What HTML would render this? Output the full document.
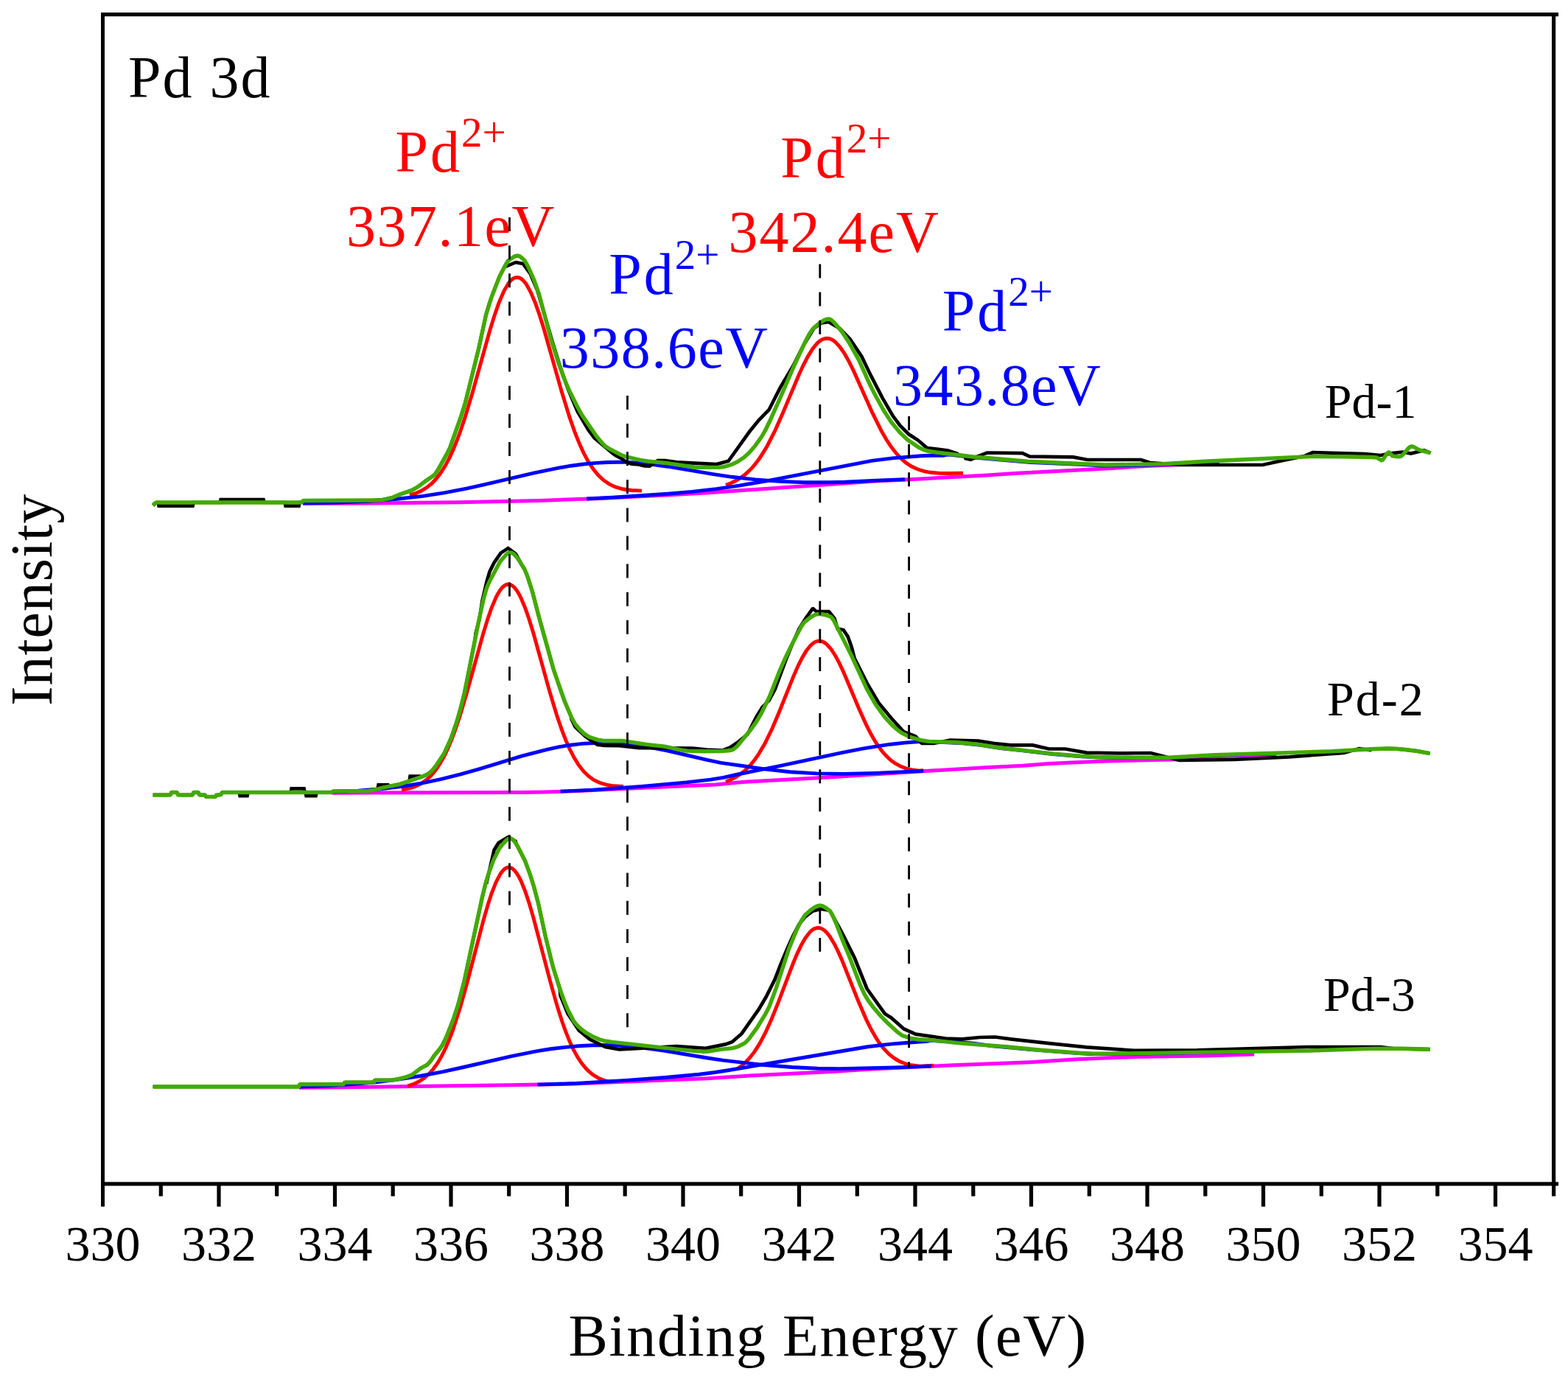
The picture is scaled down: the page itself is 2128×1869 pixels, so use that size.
<!DOCTYPE html>
<html><head><meta charset="utf-8"><title>Pd 3d XPS</title>
<style>html,body{margin:0;padding:0;background:#fff;overflow:hidden}svg{display:block}</style>
</head><body>
<svg width="2128" height="1869" viewBox="0 0 2128 1869">
<rect width="100%" height="100%" fill="#fff"/>
<path d="M411.0,683.6 L506.0,683.1 L624.0,681.8 L732.0,679.4 L808.0,676.7 L914.0,671.5 L962.0,668.8 L1052.0,662.4 L1140.0,656.6 L1191.0,652.8 L1240.0,650.5 L1336.0,645.2 L1381.0,642.2 L1492.0,636.4 L1561.0,632.3 L1655.0,628.5" fill="none" stroke="#ff00ff" stroke-width="5" stroke-linejoin="miter"/>
<path d="M450.3,1076.3 L710.3,1075.5 L741.3,1075.0 L785.3,1073.5 L895.3,1068.2 L971.3,1065.1 L1002.3,1062.0 L1020.3,1060.7 L1125.3,1055.0 L1237.3,1047.7 L1337.3,1041.7 L1388.3,1039.3 L1423.3,1036.6 L1449.3,1035.2 L1502.3,1033.1 L1665.3,1029.3 L1732.3,1026.8" fill="none" stroke="#ff00ff" stroke-width="5" stroke-linejoin="miter"/>
<path d="M406.0,1476.2 L486.0,1475.5 L692.0,1472.8 L779.0,1471.1 L960.0,1463.7 L1022.0,1459.7 L1130.0,1454.5 L1184.0,1451.1 L1288.0,1446.1 L1398.0,1441.7 L1461.0,1437.8 L1500.0,1436.0 L1540.0,1434.6 L1637.0,1433.0 L1702.0,1431.0" fill="none" stroke="#ff00ff" stroke-width="5" stroke-linejoin="miter"/>
<path d="M556.0,672.1 L564.0,669.7 L572.0,666.1 L579.0,661.8 L586.0,656.1 L592.0,649.8 L598.0,642.0 L604.0,632.6 L610.0,621.3 L615.0,610.5 L620.0,598.3 L625.0,584.8 L631.0,566.9 L641.0,533.7 L665.0,447.8 L671.0,428.4 L677.0,411.2 L684.0,394.8 L690.0,384.6 L693.0,381.0 L696.0,378.4 L699.0,376.9 L702.0,376.5 L705.0,377.1 L708.0,378.8 L711.0,381.6 L714.0,385.4 L720.0,396.0 L726.0,410.0 L732.0,426.9 L738.0,446.0 L762.0,530.7 L773.0,566.4 L780.0,586.3 L786.0,601.4 L792.0,614.6 L798.0,625.8 L805.0,636.6 L812.0,645.1 L819.0,651.7 L827.0,657.1 L835.0,660.9 L845.0,663.8 L857.0,665.5 L871.0,666.1" fill="none" stroke="#ff0000" stroke-width="4.9"/>
<path d="M985.0,658.3 L992.0,655.7 L998.0,652.8 L1004.0,649.3 L1010.0,645.0 L1016.0,639.7 L1021.0,634.6 L1026.0,628.6 L1031.0,621.8 L1041.0,605.7 L1052.0,584.1 L1062.0,561.6 L1084.0,509.2 L1090.0,496.1 L1096.0,484.5 L1103.0,473.2 L1109.0,465.9 L1113.0,462.5 L1116.0,460.7 L1119.0,459.6 L1122.0,459.2 L1125.0,459.5 L1128.0,460.5 L1131.0,462.1 L1134.0,464.5 L1140.0,471.0 L1146.0,479.8 L1152.0,490.4 L1158.0,502.4 L1184.0,560.4 L1196.0,584.6 L1203.0,596.8 L1209.0,605.9 L1215.0,613.8 L1222.0,621.5 L1229.0,627.7 L1237.0,633.0 L1245.0,636.8 L1254.0,639.6 L1263.0,641.3 L1274.0,642.2 L1288.0,642.5 L1307.0,642.1" fill="none" stroke="#ff0000" stroke-width="4.9"/>
<path d="M545.0,1072.0 L555.0,1070.1 L563.0,1067.6 L571.0,1063.8 L578.0,1059.1 L585.0,1052.7 L591.0,1045.6 L597.0,1036.7 L603.0,1026.0 L608.0,1015.6 L613.0,1003.6 L618.0,990.2 L624.0,972.3 L634.0,938.8 L656.0,859.2 L662.0,839.8 L667.0,825.4 L673.0,811.1 L676.0,805.4 L679.0,800.7 L682.0,797.0 L685.0,794.5 L688.0,793.2 L690.0,793.0 L692.0,793.2 L695.0,794.7 L698.0,797.2 L701.0,800.9 L704.0,805.7 L707.0,811.5 L713.0,825.9 L718.0,840.3 L724.0,859.8 L746.0,938.8 L756.0,971.9 L762.0,989.4 L768.0,1005.0 L773.0,1016.4 L779.0,1028.1 L785.0,1037.9 L792.0,1046.9 L799.0,1053.7 L806.0,1058.7 L814.0,1062.5 L823.0,1065.2 L833.0,1066.8 L846.0,1067.5" fill="none" stroke="#ff0000" stroke-width="4.9"/>
<path d="M985.0,1061.1 L991.0,1058.6 L997.0,1055.6 L1003.0,1051.9 L1009.0,1047.5 L1014.0,1043.0 L1019.0,1037.7 L1024.0,1031.6 L1029.0,1024.5 L1038.0,1009.3 L1048.0,988.7 L1057.0,967.5 L1077.0,917.6 L1083.0,904.0 L1088.0,893.9 L1094.0,883.7 L1100.0,876.1 L1103.0,873.4 L1106.0,871.4 L1109.0,870.3 L1111.0,869.9 L1113.0,870.0 L1116.0,870.7 L1119.0,872.2 L1122.0,874.5 L1128.0,881.2 L1134.0,890.5 L1139.0,899.9 L1145.0,912.7 L1166.0,962.5 L1176.0,984.6 L1182.0,996.3 L1187.0,1005.0 L1192.0,1012.8 L1197.0,1019.5 L1203.0,1026.3 L1209.0,1031.9 L1215.0,1036.2 L1222.0,1040.1 L1230.0,1043.1 L1238.0,1044.9 L1247.0,1046.1 L1253.0,1045.8" fill="none" stroke="#ff0000" stroke-width="4.9"/>
<path d="M553.0,1473.6 L555.0,1473.5 L560.0,1471.9 L568.0,1468.3 L575.0,1463.8 L582.0,1457.8 L588.0,1451.0 L594.0,1442.6 L600.0,1432.2 L605.0,1422.0 L610.0,1410.3 L615.0,1397.0 L625.0,1366.0 L634.0,1333.8 L656.0,1249.4 L662.0,1228.5 L667.0,1213.1 L673.0,1197.7 L679.0,1186.2 L682.0,1182.2 L685.0,1179.3 L688.0,1177.7 L690.0,1177.3 L692.0,1177.4 L695.0,1178.7 L698.0,1181.2 L701.0,1184.9 L704.0,1189.7 L707.0,1195.6 L713.0,1210.4 L718.0,1225.4 L724.0,1245.8 L747.0,1333.2 L757.0,1368.3 L763.0,1387.0 L768.0,1400.9 L773.0,1413.3 L778.0,1424.1 L784.0,1435.1 L790.0,1444.0 L797.0,1452.2 L804.0,1458.3 L812.0,1463.2 L821.0,1466.7 L826.0,1468.0 L836.0,1467.6" fill="none" stroke="#ff0000" stroke-width="4.9"/>
<path d="M1000.0,1451.3 L1008.0,1445.5 L1016.0,1437.6 L1024.0,1427.4 L1031.0,1416.4 L1039.0,1401.2 L1047.0,1383.5 L1056.0,1361.1 L1076.0,1308.4 L1082.0,1294.1 L1087.0,1283.6 L1093.0,1273.0 L1099.0,1265.3 L1102.0,1262.5 L1105.0,1260.6 L1108.0,1259.6 L1110.0,1259.3 L1112.0,1259.5 L1115.0,1260.4 L1118.0,1262.2 L1121.0,1264.8 L1126.0,1270.8 L1132.0,1280.6 L1137.0,1290.5 L1143.0,1304.0 L1165.0,1359.3 L1176.0,1384.6 L1182.0,1396.7 L1188.0,1407.3 L1193.0,1415.0 L1199.0,1422.9 L1206.0,1430.3 L1213.0,1435.9 L1220.0,1440.2 L1228.0,1443.5 L1237.0,1445.8 L1248.0,1447.2 L1267.0,1446.2" fill="none" stroke="#ff0000" stroke-width="4.9"/>
<path d="M411.0,683.1 L459.0,682.1 L501.0,680.3 L539.0,677.3 L574.0,673.4 L603.0,668.9 L633.0,663.2 L660.0,657.2 L724.0,642.1 L758.0,635.1 L775.0,632.2 L792.0,630.0 L809.0,628.4 L825.0,627.5 L839.0,627.2 L852.0,627.4 L865.0,628.2 L879.0,629.5 L906.0,633.2 L968.0,643.6 L993.0,647.3 L1025.0,650.9 L1058.0,653.4 L1092.0,654.7 L1126.0,654.8 L1147.0,654.3 L1189.0,652.2 L1228.0,650.8" fill="none" stroke="#0000ff" stroke-width="4.9"/>
<path d="M796.2,677.0 L831.2,675.2 L906.2,670.3 L939.2,667.4 L972.2,663.6 L1003.2,659.1 L1040.2,652.8 L1183.2,625.4 L1211.2,621.9 L1250.2,618.8 L1265.2,618.2 L1280.2,618.2 L1284.2,617.3 L1288.2,617.1 L1325.2,621.4 L1398.2,627.5 L1464.2,630.2 L1496.2,632.0 L1529.2,631.8 L1574.2,630.8 L1654.2,626.3" fill="none" stroke="#0000ff" stroke-width="4.9"/>
<path d="M450.3,1074.8 L486.3,1073.1 L517.3,1070.7 L546.3,1067.3 L573.3,1062.9 L598.3,1057.7 L624.3,1051.2 L649.3,1044.1 L708.3,1026.2 L742.3,1017.3 L759.3,1013.7 L774.3,1011.2 L790.3,1009.4 L806.3,1008.5 L822.3,1008.3 L837.3,1008.9 L852.3,1010.1 L869.3,1012.3 L887.3,1015.3 L906.3,1019.0 L959.3,1031.4 L978.3,1035.3 L1039.3,1044.1 L1072.3,1047.7 L1108.3,1049.9 L1145.3,1050.4 L1187.3,1049.4 L1253.3,1046.4" fill="none" stroke="#0000ff" stroke-width="4.9"/>
<path d="M760.7,1074.2 L804.7,1072.1 L870.7,1067.4 L931.7,1061.9 L964.7,1058.1 L981.7,1055.3 L1003.7,1050.5 L1055.7,1040.2 L1143.7,1021.4 L1170.7,1016.2 L1190.7,1012.8 L1208.7,1010.2 L1227.7,1008.1 L1245.7,1006.7 L1257.7,1006.6 L1306.7,1008.8 L1330.7,1011.4 L1357.7,1015.5 L1386.7,1018.5 L1428.7,1023.5 L1464.7,1026.6 L1487.7,1027.9 L1532.7,1028.7 L1583.7,1028.9 L1601.7,1028.2 L1647.7,1025.4 L1732.7,1022.5" fill="none" stroke="#0000ff" stroke-width="4.9"/>
<path d="M406.0,1475.1 L444.0,1473.7 L479.0,1471.6 L511.0,1468.7 L542.0,1464.9 L570.0,1460.5 L600.0,1454.8 L629.0,1448.5 L694.0,1433.6 L729.0,1426.7 L747.0,1423.8 L765.0,1421.6 L785.0,1419.8 L804.0,1418.8 L819.0,1418.5 L834.0,1418.9 L850.0,1419.9 L866.0,1421.4 L901.0,1426.1 L960.0,1436.0 L981.0,1439.1 L1034.0,1445.2 L1075.0,1448.5 L1110.0,1450.2 L1139.0,1450.6 L1225.0,1448.6 L1264.0,1447.0" fill="none" stroke="#0000ff" stroke-width="4.9"/>
<path d="M729.6,1472.1 L782.6,1470.5 L849.6,1466.4 L899.6,1462.8 L948.6,1458.2 L968.6,1455.7 L986.6,1453.0 L1177.6,1420.8 L1208.6,1417.1 L1231.6,1415.2 L1258.6,1413.4 L1263.6,1412.4 L1302.6,1414.4 L1321.6,1416.3 L1347.6,1419.9 L1399.6,1424.6 L1460.6,1429.4 L1479.6,1430.5 L1515.6,1430.5 L1701.6,1427.6" fill="none" stroke="#0000ff" stroke-width="4.9"/>
<path d="M207.6,686.0 L210.6,683.0 L212.6,682.0 L214.6,682.0 L215.6,686.6 L261.6,686.6 L262.6,682.0 L298.6,682.0 L299.6,678.2 L357.6,678.2 L358.6,682.0 L386.6,682.0 L387.6,686.6 L405.6,686.6 L406.6,682.0 L409.6,681.7 L411.6,679.6 L412.6,679.5 L507.6,679.1 L519.6,678.4 L532.6,675.4 L542.6,671.1 L557.6,666.0 L565.6,661.8 L579.6,651.4 L587.6,646.1 L590.6,643.4 L594.6,637.3 L606.6,615.9 L610.6,607.9 L625.6,565.4 L631.6,546.1 L649.6,473.4 L659.6,427.3 L663.6,413.5 L667.6,401.8 L677.6,376.0 L683.6,364.0 L687.6,357.1 L688.6,360.8 L699.6,356.2 L700.6,356.1 L709.6,357.9 L710.6,358.8 L719.6,371.4 L729.6,395.0 L749.6,463.6 L759.6,495.7 L770.6,527.5 L783.6,558.3 L798.6,583.8 L806.6,594.3 L831.6,615.4 L835.6,618.2 L842.6,621.9 L849.6,626.7 L856.6,629.6 L866.6,630.5 L874.6,632.5 L881.6,632.6 L892.6,625.0 L902.6,625.0 L918.6,627.4 L972.6,630.1 L988.6,625.8 L1017.6,585.3 L1029.6,570.5 L1043.6,556.2 L1058.6,526.6 L1076.6,496.2 L1090.6,468.4 L1104.6,445.6 L1114.6,438.3 L1124.6,437.0 L1139.6,445.8 L1153.6,460.3 L1169.6,484.2 L1181.6,509.2 L1197.6,540.2 L1211.6,564.3 L1221.6,577.7 L1233.6,589.6 L1245.6,597.3 L1257.6,607.6 L1258.6,608.0 L1286.6,611.6 L1299.6,615.9 L1300.6,617.6 L1309.6,618.7 L1310.6,622.2 L1316.6,623.8 L1317.6,623.9 L1325.6,619.8 L1339.6,614.5 L1387.6,615.2 L1397.6,619.6 L1456.6,620.4 L1475.6,624.0 L1548.6,624.0 L1560.6,628.0 L1603.6,631.0 L1713.6,631.0 L1744.6,624.1 L1770.6,619.0 L1781.6,614.0 L1852.6,616.0 L1873.6,618.0 L1889.6,615.1 L1903.6,613.5 L1914.6,615.5 L1932.6,611.1 L1941.6,614.9" fill="none" stroke="#000" stroke-width="4.7"/>
<path d="M207.6,1079.0 L230.6,1079.0 L231.6,1078.2 L232.6,1075.9 L233.6,1075.5 L239.6,1075.5 L240.6,1076.3 L241.6,1078.6 L242.6,1079.0 L260.6,1079.0 L261.6,1078.2 L262.6,1075.9 L263.6,1075.5 L268.6,1075.5 L269.6,1076.3 L270.6,1078.6 L271.6,1079.0 L277.6,1079.0 L278.6,1079.5 L279.6,1081.2 L291.6,1081.5 L292.6,1081.0 L293.6,1079.3 L299.6,1078.6 L301.6,1075.7 L324.6,1075.5 L325.6,1080.1 L335.6,1080.1 L336.6,1075.5 L394.6,1075.5 L395.6,1070.3 L412.6,1070.3 L413.6,1075.5 L414.6,1075.5 L415.6,1080.1 L428.6,1080.1 L429.6,1075.5 L449.6,1075.5 L452.6,1074.0 L497.6,1073.5 L505.6,1072.5 L512.6,1070.8 L513.6,1065.4 L526.6,1065.4 L527.6,1067.5 L538.6,1065.3 L545.6,1063.5 L555.6,1059.9 L556.6,1053.7 L569.6,1053.7 L570.6,1054.9 L576.6,1052.7 L581.6,1050.1 L586.6,1045.6 L591.6,1039.6 L599.6,1027.8 L603.6,1021.0 L612.6,1000.9 L620.6,977.4 L626.6,955.8 L631.6,934.8 L644.6,868.4 L645.6,859.8 L650.6,840.3 L654.6,815.0 L660.6,789.3 L664.6,775.6 L670.6,763.7 L679.6,750.6 L689.6,744.1 L699.6,751.7 L700.6,753.1 L709.6,769.3 L711.6,772.0 L715.6,781.5 L722.6,803.3 L730.6,834.3 L750.6,906.5 L760.6,936.3 L767.6,955.2 L774.6,971.6 L775.6,976.2 L780.6,986.6 L781.6,987.6 L794.6,999.6 L810.6,1010.7 L820.6,1011.8 L840.6,1012.2 L867.6,1015.2 L939.6,1015.5 L959.6,1017.5 L980.6,1018.5 L990.6,1014.6 L1000.6,1008.0 L1014.6,996.5 L1026.6,972.8 L1034.6,960.0 L1043.6,950.7 L1051.6,936.1 L1067.6,892.8 L1076.6,871.1 L1084.6,853.4 L1093.6,839.1 L1102.6,826.4 L1103.6,826.3 L1107.6,829.7 L1108.6,830.0 L1124.6,830.0 L1125.6,830.7 L1132.6,839.5 L1136.6,853.3 L1144.6,855.0 L1150.6,863.9 L1155.6,877.8 L1159.6,893.2 L1176.6,927.1 L1192.6,954.2 L1209.6,974.8 L1225.6,992.4 L1226.6,993.2 L1242.6,999.5 L1250.6,1008.4 L1251.6,1008.8 L1267.6,1008.8 L1289.6,1004.6 L1327.6,1005.5 L1349.6,1009.1 L1371.6,1011.4 L1401.6,1011.4 L1423.6,1016.5 L1445.6,1016.5 L1474.6,1021.6 L1518.6,1022.4 L1561.6,1022.0 L1600.6,1032.0 L1674.6,1031.0 L1749.6,1027.3 L1823.6,1022.0 L1844.6,1016.1 L1859.6,1018.0 L1860.6,1016.7 L1864.6,1016.5 L1883.6,1016.0 L1895.6,1016.3 L1921.6,1019.2 L1940.6,1022.6" fill="none" stroke="#000" stroke-width="4.7"/>
<path d="M207.6,1475.0 L404.6,1475.0 L405.6,1474.7 L406.6,1472.2 L407.6,1471.7 L465.6,1471.7 L466.6,1471.1 L467.6,1469.4 L468.6,1469.1 L506.6,1469.1 L507.6,1468.5 L508.6,1466.5 L509.6,1466.2 L532.6,1466.0 L540.6,1464.5 L552.6,1461.5 L559.6,1458.6 L570.6,1450.2 L579.6,1445.4 L583.6,1441.2 L589.6,1432.5 L596.6,1424.0 L600.6,1418.2 L606.6,1405.6 L615.6,1382.6 L622.6,1360.6 L630.6,1329.3 L654.6,1217.2 L659.6,1197.0 L660.6,1197.3 L670.6,1153.7 L676.6,1143.9 L689.6,1136.2 L690.6,1136.4 L699.6,1141.8 L700.6,1145.3 L712.6,1168.5 L718.6,1184.5 L724.6,1203.6 L730.6,1226.3 L740.6,1272.5 L748.6,1305.3 L753.6,1322.9 L759.6,1341.5 L760.6,1351.5 L770.6,1375.8 L785.6,1398.5 L800.6,1410.8 L821.6,1421.1 L840.6,1424.4 L918.6,1420.1 L957.6,1422.9 L984.6,1417.4 L993.6,1414.3 L1006.6,1402.9 L1029.6,1370.1 L1039.6,1353.3 L1051.6,1329.4 L1059.6,1308.6 L1068.6,1287.1 L1076.6,1269.5 L1084.6,1254.2 L1092.6,1244.5 L1102.6,1236.8 L1114.6,1233.6 L1125.6,1235.8 L1126.6,1236.5 L1142.6,1265.8 L1159.6,1299.8 L1176.6,1342.0 L1200.6,1375.5 L1201.6,1376.5 L1209.6,1381.4 L1226.6,1396.5 L1242.6,1403.7 L1283.6,1409.5 L1305.6,1410.4 L1329.6,1408.0 L1350.6,1407.5 L1371.6,1410.3 L1423.6,1416.2 L1474.6,1421.4 L1539.6,1425.8 L1624.6,1425.3 L1774.6,1421.0 L1873.6,1421.0 L1890.6,1423.1 L1940.6,1424.3" fill="none" stroke="#000" stroke-width="4.7"/>
<path d="M207.6,686.0 L210.6,683.0 L212.6,682.0 L408.6,682.0 L409.6,681.7 L411.6,679.6 L412.6,679.5 L515.6,678.9 L522.6,677.9 L531.6,675.7 L542.6,671.1 L558.6,665.6 L566.6,661.1 L579.6,651.4 L587.6,646.1 L590.6,643.4 L594.6,637.3 L606.6,615.9 L610.6,607.9 L625.6,565.4 L631.6,546.1 L649.6,473.4 L659.6,427.3 L666.6,404.6 L677.6,376.0 L686.6,358.7 L689.6,354.3 L692.6,351.6 L698.6,347.9 L702.6,347.0 L704.6,347.5 L706.6,348.7 L710.6,352.1 L712.6,354.5 L716.6,361.7 L724.6,379.5 L731.6,399.4 L747.6,460.1 L758.6,494.6 L765.6,513.6 L771.6,528.0 L782.6,550.2 L789.6,563.1 L809.6,592.2 L816.6,600.8 L821.6,605.7 L825.6,608.3 L844.6,618.3 L851.6,620.5 L868.6,624.3 L878.6,626.0 L901.6,628.2 L941.6,634.0 L948.6,634.4 L975.6,634.4 L982.6,633.5 L993.6,630.3 L1000.6,626.9 L1009.6,620.9 L1016.6,614.6 L1024.6,605.4 L1033.6,592.9 L1038.6,584.2 L1044.6,571.8 L1059.6,538.3 L1077.6,496.6 L1092.6,464.3 L1098.6,452.9 L1103.6,445.9 L1111.6,438.9 L1118.6,434.5 L1121.6,433.4 L1124.6,433.0 L1126.6,433.4 L1128.6,434.6 L1132.6,438.4 L1142.6,450.2 L1151.6,463.7 L1165.6,488.6 L1180.6,522.0 L1186.6,534.1 L1199.6,557.7 L1209.6,572.9 L1221.6,587.4 L1231.6,597.0 L1246.6,607.1 L1252.6,610.0 L1258.6,612.0 L1270.6,614.0 L1320.6,620.0 L1394.6,626.3 L1499.6,631.0 L1577.6,629.7 L1639.6,626.0 L1778.6,619.6 L1820.6,619.7 L1861.6,620.5 L1868.6,621.1 L1874.6,624.8 L1876.6,624.0 L1882.6,615.2 L1884.6,614.0 L1885.6,614.4 L1889.6,618.8 L1896.6,619.9 L1900.6,619.6 L1903.6,617.4 L1911.6,608.2 L1913.6,606.6 L1915.6,605.8 L1918.6,606.5 L1923.6,609.5 L1928.6,611.4 L1941.6,614.9" fill="none" stroke="#42aa00" stroke-width="5.4"/>
<path d="M207.6,1079.0 L230.6,1079.0 L231.6,1078.2 L232.6,1075.9 L233.6,1075.5 L239.6,1075.5 L240.6,1076.3 L241.6,1078.6 L242.6,1079.0 L260.6,1079.0 L261.6,1078.2 L262.6,1075.9 L263.6,1075.5 L268.6,1075.5 L269.6,1076.3 L270.6,1078.6 L271.6,1079.0 L277.6,1079.0 L278.6,1079.5 L279.6,1081.2 L291.6,1081.5 L292.6,1081.0 L293.6,1079.3 L299.6,1078.6 L301.6,1075.7 L302.6,1075.5 L449.6,1075.5 L452.6,1074.0 L499.6,1073.4 L506.6,1072.3 L520.6,1068.8 L543.6,1064.1 L574.6,1053.5 L581.6,1050.1 L585.6,1046.7 L590.6,1040.9 L602.6,1022.9 L611.6,1003.4 L619.6,980.6 L624.6,963.5 L630.6,939.3 L649.6,843.5 L656.6,811.6 L660.6,797.7 L664.6,788.6 L678.6,762.4 L686.6,753.1 L689.6,750.8 L692.6,750.0 L694.6,750.4 L697.6,752.2 L702.6,757.8 L711.6,772.0 L715.6,781.5 L722.6,803.3 L731.6,838.0 L751.6,909.7 L765.6,950.0 L775.6,973.8 L780.6,982.7 L786.6,989.9 L792.6,995.8 L799.6,1000.3 L812.6,1004.5 L819.6,1005.5 L840.6,1005.4 L846.6,1005.8 L876.6,1010.4 L901.6,1013.1 L925.6,1018.1 L932.6,1019.1 L954.6,1019.8 L977.6,1019.6 L988.6,1018.7 L993.6,1017.8 L995.6,1017.0 L1000.6,1012.7 L1018.6,990.8 L1026.6,979.5 L1032.6,969.4 L1044.6,944.9 L1057.6,911.7 L1065.6,893.5 L1073.6,876.9 L1087.6,850.1 L1091.6,844.6 L1099.6,838.1 L1105.6,834.6 L1108.6,833.6 L1111.6,833.3 L1118.6,834.2 L1126.6,836.7 L1128.6,838.2 L1131.6,842.2 L1155.6,889.8 L1176.6,935.6 L1188.6,956.6 L1200.6,973.2 L1211.6,985.0 L1218.6,991.2 L1223.6,994.8 L1235.6,1000.7 L1249.6,1004.7 L1260.6,1006.4 L1295.6,1007.5 L1309.6,1008.5 L1330.6,1010.9 L1357.6,1015.0 L1429.6,1023.1 L1466.6,1026.3 L1489.6,1027.5 L1539.6,1028.3 L1586.6,1028.3 L1648.6,1024.8 L1807.6,1019.8 L1860.6,1016.7 L1882.6,1016.0 L1893.6,1016.2 L1905.6,1017.3 L1923.6,1019.5 L1940.6,1022.6" fill="none" stroke="#42aa00" stroke-width="5.4"/>
<path d="M207.6,1475.0 L404.6,1475.0 L405.6,1474.7 L406.6,1472.2 L407.6,1471.7 L465.6,1471.7 L466.6,1471.1 L467.6,1469.4 L468.6,1469.1 L506.6,1469.1 L507.6,1468.5 L508.6,1466.5 L509.6,1466.2 L532.6,1466.0 L540.6,1464.5 L552.6,1461.5 L559.6,1458.6 L570.6,1450.2 L579.6,1445.4 L583.6,1441.2 L589.6,1432.5 L596.6,1424.0 L600.6,1418.2 L605.6,1408.0 L614.6,1385.3 L621.6,1364.1 L629.6,1333.5 L653.6,1221.6 L658.6,1200.6 L662.6,1187.1 L669.6,1167.9 L677.6,1151.9 L680.6,1147.8 L686.6,1141.1 L689.6,1138.8 L692.6,1138.0 L694.6,1138.6 L697.6,1141.1 L702.6,1148.7 L712.6,1168.5 L719.6,1187.5 L724.6,1203.6 L730.6,1226.3 L740.6,1272.5 L750.6,1312.6 L759.6,1341.5 L765.6,1358.4 L770.6,1370.6 L778.6,1386.0 L782.6,1390.9 L788.6,1396.7 L795.6,1401.9 L803.6,1406.4 L812.6,1410.5 L819.6,1412.6 L830.6,1414.4 L914.6,1423.6 L941.6,1426.4 L954.6,1427.2 L961.6,1427.0 L975.6,1424.6 L994.6,1422.7 L1001.6,1420.5 L1009.6,1416.4 L1012.6,1414.2 L1016.6,1409.9 L1027.6,1394.7 L1038.6,1376.6 L1043.6,1367.1 L1053.6,1340.4 L1070.6,1287.9 L1080.6,1263.4 L1087.6,1249.5 L1092.6,1242.0 L1100.6,1234.8 L1106.6,1230.8 L1109.6,1229.6 L1112.6,1229.1 L1116.6,1229.8 L1121.6,1232.6 L1126.6,1236.9 L1129.6,1241.7 L1135.6,1255.5 L1142.6,1273.9 L1151.6,1295.6 L1167.6,1337.4 L1173.6,1350.1 L1178.6,1358.4 L1185.6,1367.8 L1195.6,1379.3 L1203.6,1387.5 L1217.6,1400.5 L1224.6,1405.6 L1235.6,1409.2 L1245.6,1410.7 L1268.6,1412.2 L1299.6,1415.6 L1365.6,1420.8 L1411.6,1425.2 L1464.6,1429.2 L1483.6,1430.1 L1517.6,1430.0 L1776.6,1426.1 L1865.6,1423.1 L1903.6,1423.2 L1940.6,1424.3" fill="none" stroke="#42aa00" stroke-width="5.4"/>
<line x1="691.5" y1="295.1" x2="691.5" y2="1266.2" stroke="#000" stroke-width="2.8" stroke-dasharray="19 19.1"/>
<line x1="851.5" y1="537" x2="851.5" y2="1395.5" stroke="#000" stroke-width="2.8" stroke-dasharray="19 19.1"/>
<line x1="1112.8" y1="358.5" x2="1112.8" y2="1291.8" stroke="#000" stroke-width="2.8" stroke-dasharray="19 19.1"/>
<line x1="1233.6" y1="565" x2="1233.6" y2="1449" stroke="#000" stroke-width="2.8" stroke-dasharray="19 19.1"/>
<g fill="#000">
<rect x="137" y="17" width="5" height="1620.7"/>
<rect x="137" y="17" width="1978" height="5.2"/>
<rect x="2106" y="17" width="5.2" height="1606.6"/>
<rect x="137" y="1604.3" width="1978" height="5.2"/>
<rect x="215.7" y="1607" width="5.2" height="16.6"/>
<rect x="294.4" y="1607" width="5.2" height="30.7"/>
<rect x="373.1" y="1607" width="5.2" height="16.6"/>
<rect x="451.9" y="1607" width="5.2" height="30.7"/>
<rect x="530.6" y="1607" width="5.2" height="16.6"/>
<rect x="609.4" y="1607" width="5.2" height="30.7"/>
<rect x="688.1" y="1607" width="5.2" height="16.6"/>
<rect x="766.9" y="1607" width="5.2" height="30.7"/>
<rect x="845.6" y="1607" width="5.2" height="16.6"/>
<rect x="924.4" y="1607" width="5.2" height="30.7"/>
<rect x="1003.1" y="1607" width="5.2" height="16.6"/>
<rect x="1081.9" y="1607" width="5.2" height="30.7"/>
<rect x="1160.7" y="1607" width="5.2" height="16.6"/>
<rect x="1239.4" y="1607" width="5.2" height="30.7"/>
<rect x="1318.2" y="1607" width="5.2" height="16.6"/>
<rect x="1396.9" y="1607" width="5.2" height="30.7"/>
<rect x="1475.7" y="1607" width="5.2" height="16.6"/>
<rect x="1554.4" y="1607" width="5.2" height="30.7"/>
<rect x="1633.2" y="1607" width="5.2" height="16.6"/>
<rect x="1711.9" y="1607" width="5.2" height="30.7"/>
<rect x="1790.7" y="1607" width="5.2" height="16.6"/>
<rect x="1869.4" y="1607" width="5.2" height="30.7"/>
<rect x="1948.2" y="1607" width="5.2" height="16.6"/>
<rect x="2026.9" y="1607" width="5.2" height="30.7"/>
</g>
<g font-family="'Liberation Serif', 'Times New Roman', serif" font-size="68" text-anchor="middle" fill="#000">
<text x="139.5" y="1710.5">330</text>
<text x="297.0" y="1710.5">332</text>
<text x="454.5" y="1710.5">334</text>
<text x="612.0" y="1710.5">336</text>
<text x="769.5" y="1710.5">338</text>
<text x="927.0" y="1710.5">340</text>
<text x="1084.5" y="1710.5">342</text>
<text x="1242.0" y="1710.5">344</text>
<text x="1399.5" y="1710.5">346</text>
<text x="1557.0" y="1710.5">348</text>
<text x="1714.5" y="1710.5">350</text>
<text x="1872.0" y="1710.5">352</text>
<text x="2029.5" y="1710.5">354</text>
</g>
<text font-family="'Liberation Serif', 'Times New Roman', serif" font-size="80" x="771.5" y="1839.7" letter-spacing="1.6">Binding Energy (eV)</text>
<text font-family="'Liberation Serif', 'Times New Roman', serif" font-size="80" transform="translate(69.5,958) rotate(-90)" letter-spacing="0.9">Intensity</text>
<text font-family="'Liberation Serif', 'Times New Roman', serif" font-size="80" x="174" y="131.6" letter-spacing="2">Pd 3d</text>
<text font-family="'Liberation Serif', 'Times New Roman', serif" font-size="80" x="536.5" y="232.7" fill="#ff0000" letter-spacing="3">Pd</text><text font-family="'Liberation Serif', 'Times New Roman', serif" font-size="57" x="626" y="198.7" fill="#ff0000">2+</text>
<text font-family="'Liberation Serif', 'Times New Roman', serif" font-size="80" x="1059.3" y="240.7" fill="#ff0000" letter-spacing="3">Pd</text><text font-family="'Liberation Serif', 'Times New Roman', serif" font-size="57" x="1148.8" y="206.7" fill="#ff0000">2+</text>
<text font-family="'Liberation Serif', 'Times New Roman', serif" font-size="80" x="826.2" y="398.5" fill="#0000ff" letter-spacing="3">Pd</text><text font-family="'Liberation Serif', 'Times New Roman', serif" font-size="57" x="915.8" y="364.5" fill="#0000ff">2+</text>
<text font-family="'Liberation Serif', 'Times New Roman', serif" font-size="80" x="1278.7" y="449.3" fill="#0000ff" letter-spacing="3">Pd</text><text font-family="'Liberation Serif', 'Times New Roman', serif" font-size="57" x="1368.3" y="415.3" fill="#0000ff">2+</text>
<text font-family="'Liberation Serif', 'Times New Roman', serif" font-size="80" x="470" y="334" fill="#ff0000" letter-spacing="1.5">337.1eV</text>
<text font-family="'Liberation Serif', 'Times New Roman', serif" font-size="80" x="988.5" y="342.2" fill="#ff0000" letter-spacing="2">342.4eV</text>
<text font-family="'Liberation Serif', 'Times New Roman', serif" font-size="80" x="759.7" y="499" fill="#0000ff" letter-spacing="1.5">338.6eV</text>
<text font-family="'Liberation Serif', 'Times New Roman', serif" font-size="80" x="1212.1" y="549.8" fill="#0000ff" letter-spacing="1.4">343.8eV</text>
<text font-family="'Liberation Serif', 'Times New Roman', serif" font-size="66" x="1797.8" y="566.8">Pd-1</text>
<text font-family="'Liberation Serif', 'Times New Roman', serif" font-size="66" x="1801" y="971" letter-spacing="2">Pd-2</text>
<text font-family="'Liberation Serif', 'Times New Roman', serif" font-size="66" x="1796" y="1372.4">Pd-3</text>
</svg>
</body></html>
